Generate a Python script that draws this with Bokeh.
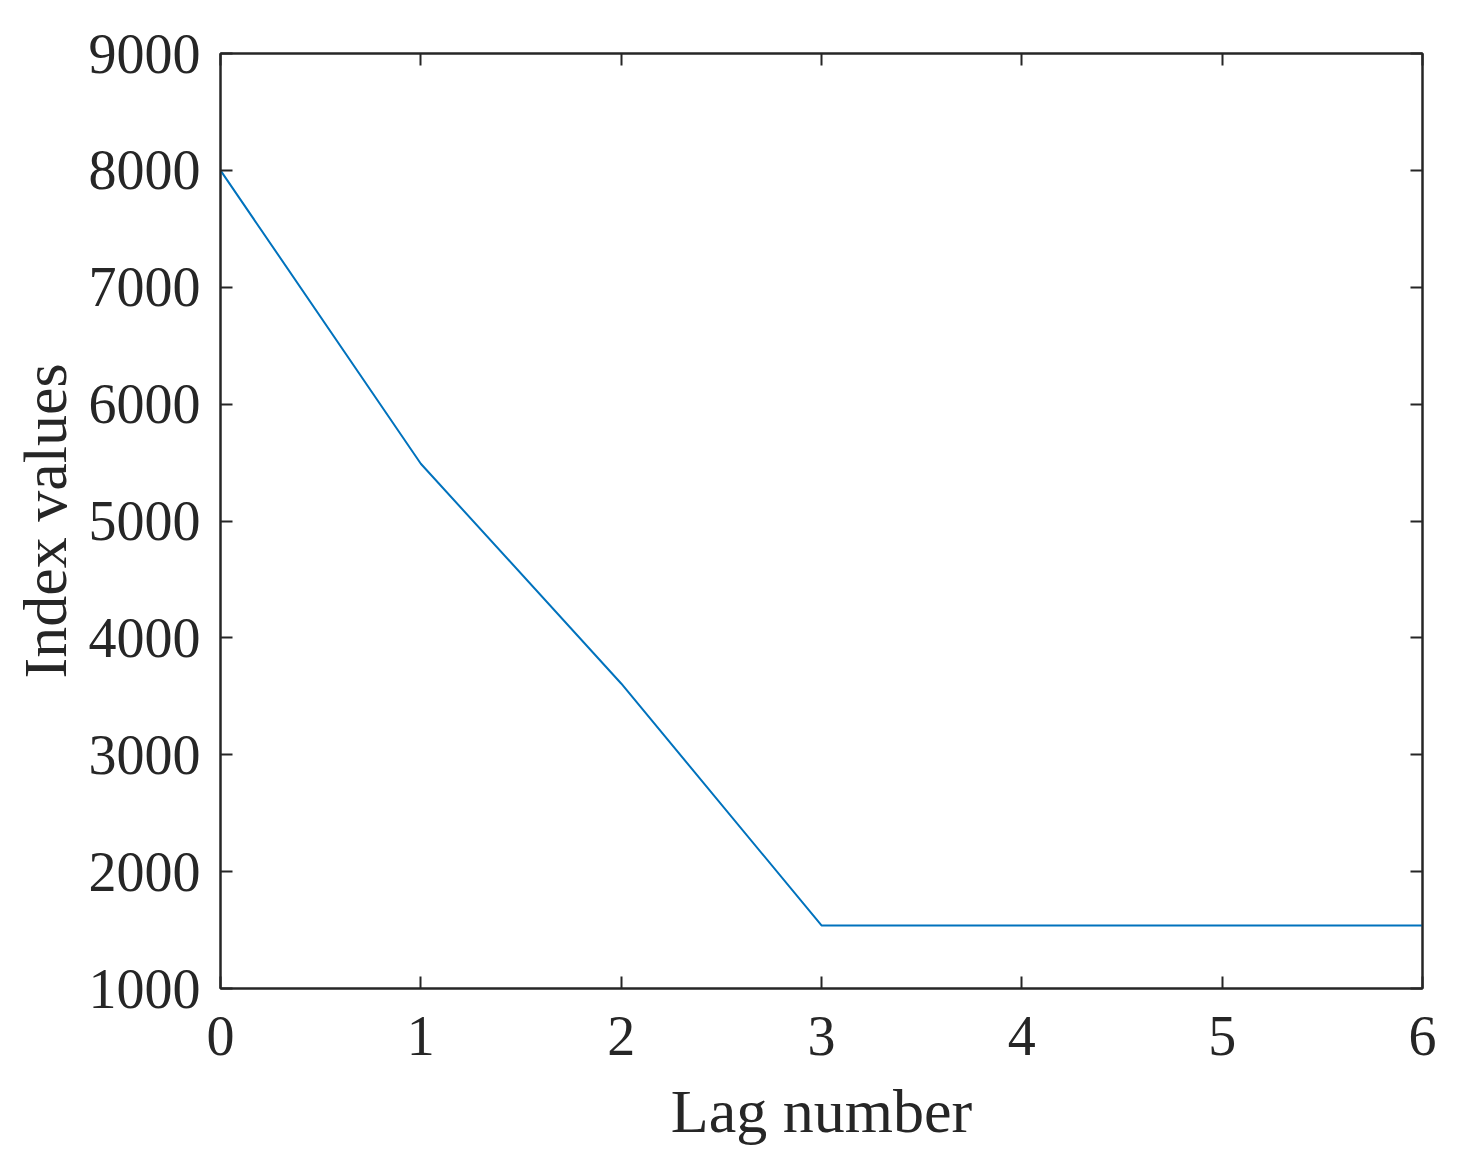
from bokeh.plotting import figure
from bokeh.models import Range1d, LinearAxis, FixedTicker
from bokeh.embed import file_html
from bokeh.resources import INLINE

lag = [0, 1, 2, 3, 4, 5, 6]
index_values = [8000, 5490, 3610, 1540, 1540, 1540, 1540]
x_ticks = [0, 1, 2, 3, 4, 5, 6]
y_ticks = [1000, 2000, 3000, 4000, 5000, 6000, 7000, 8000, 9000]

FONT = "Liberation Serif"
DARK = "#262626"

p = figure(width=1455, height=1160, output_backend="svg", toolbar_location=None,
           x_range=Range1d(0, 6), y_range=Range1d(1000, 9000),
           min_border_left=220, min_border_top=53, min_border_right=33, min_border_bottom=172)
p.grid.visible = False
p.outline_line_color = DARK
p.outline_line_width = 2
p.background_fill_color = "white"
p.border_fill_color = "white"

p.line(lag, index_values, line_color="#0072BD", line_width=2)

for ax in (p.xaxis[0], p.yaxis[0]):
    ax.axis_line_color = DARK
    ax.axis_line_width = 2
    ax.major_tick_line_color = DARK
    ax.major_tick_line_width = 2
    ax.major_tick_in = 12
    ax.major_tick_out = 0
    ax.minor_tick_line_color = None
    ax.major_label_text_font = FONT
    ax.major_label_text_font_size = "56px"
    ax.major_label_text_color = DARK
    ax.axis_label_text_font = FONT
    ax.axis_label_text_font_size = "62px"
    ax.axis_label_text_font_style = "normal"
    ax.axis_label_text_color = DARK

p.xaxis[0].ticker = FixedTicker(ticks=x_ticks)
p.yaxis[0].ticker = FixedTicker(ticks=y_ticks)
p.xaxis[0].axis_label = "Lag number"
p.yaxis[0].axis_label = "Index values"
p.xaxis[0].major_label_standoff = 28
p.yaxis[0].major_label_standoff = 20
p.xaxis[0].axis_label_standoff = 19
p.yaxis[0].axis_label_standoff = 7

for loc, ticks in (("above", x_ticks), ("right", y_ticks)):
    ax = LinearAxis(ticker=FixedTicker(ticks=ticks))
    ax.axis_line_color = DARK
    ax.axis_line_width = 2
    ax.major_tick_line_color = DARK
    ax.major_tick_line_width = 2
    ax.major_tick_in = 12
    ax.major_tick_out = 0
    ax.minor_tick_line_color = None
    ax.major_label_text_font_size = "0px"
    ax.major_label_text_color = None
    ax.major_label_standoff = 0
    p.add_layout(ax, loc)

open("out.html", "w").write(file_html(p, INLINE))
